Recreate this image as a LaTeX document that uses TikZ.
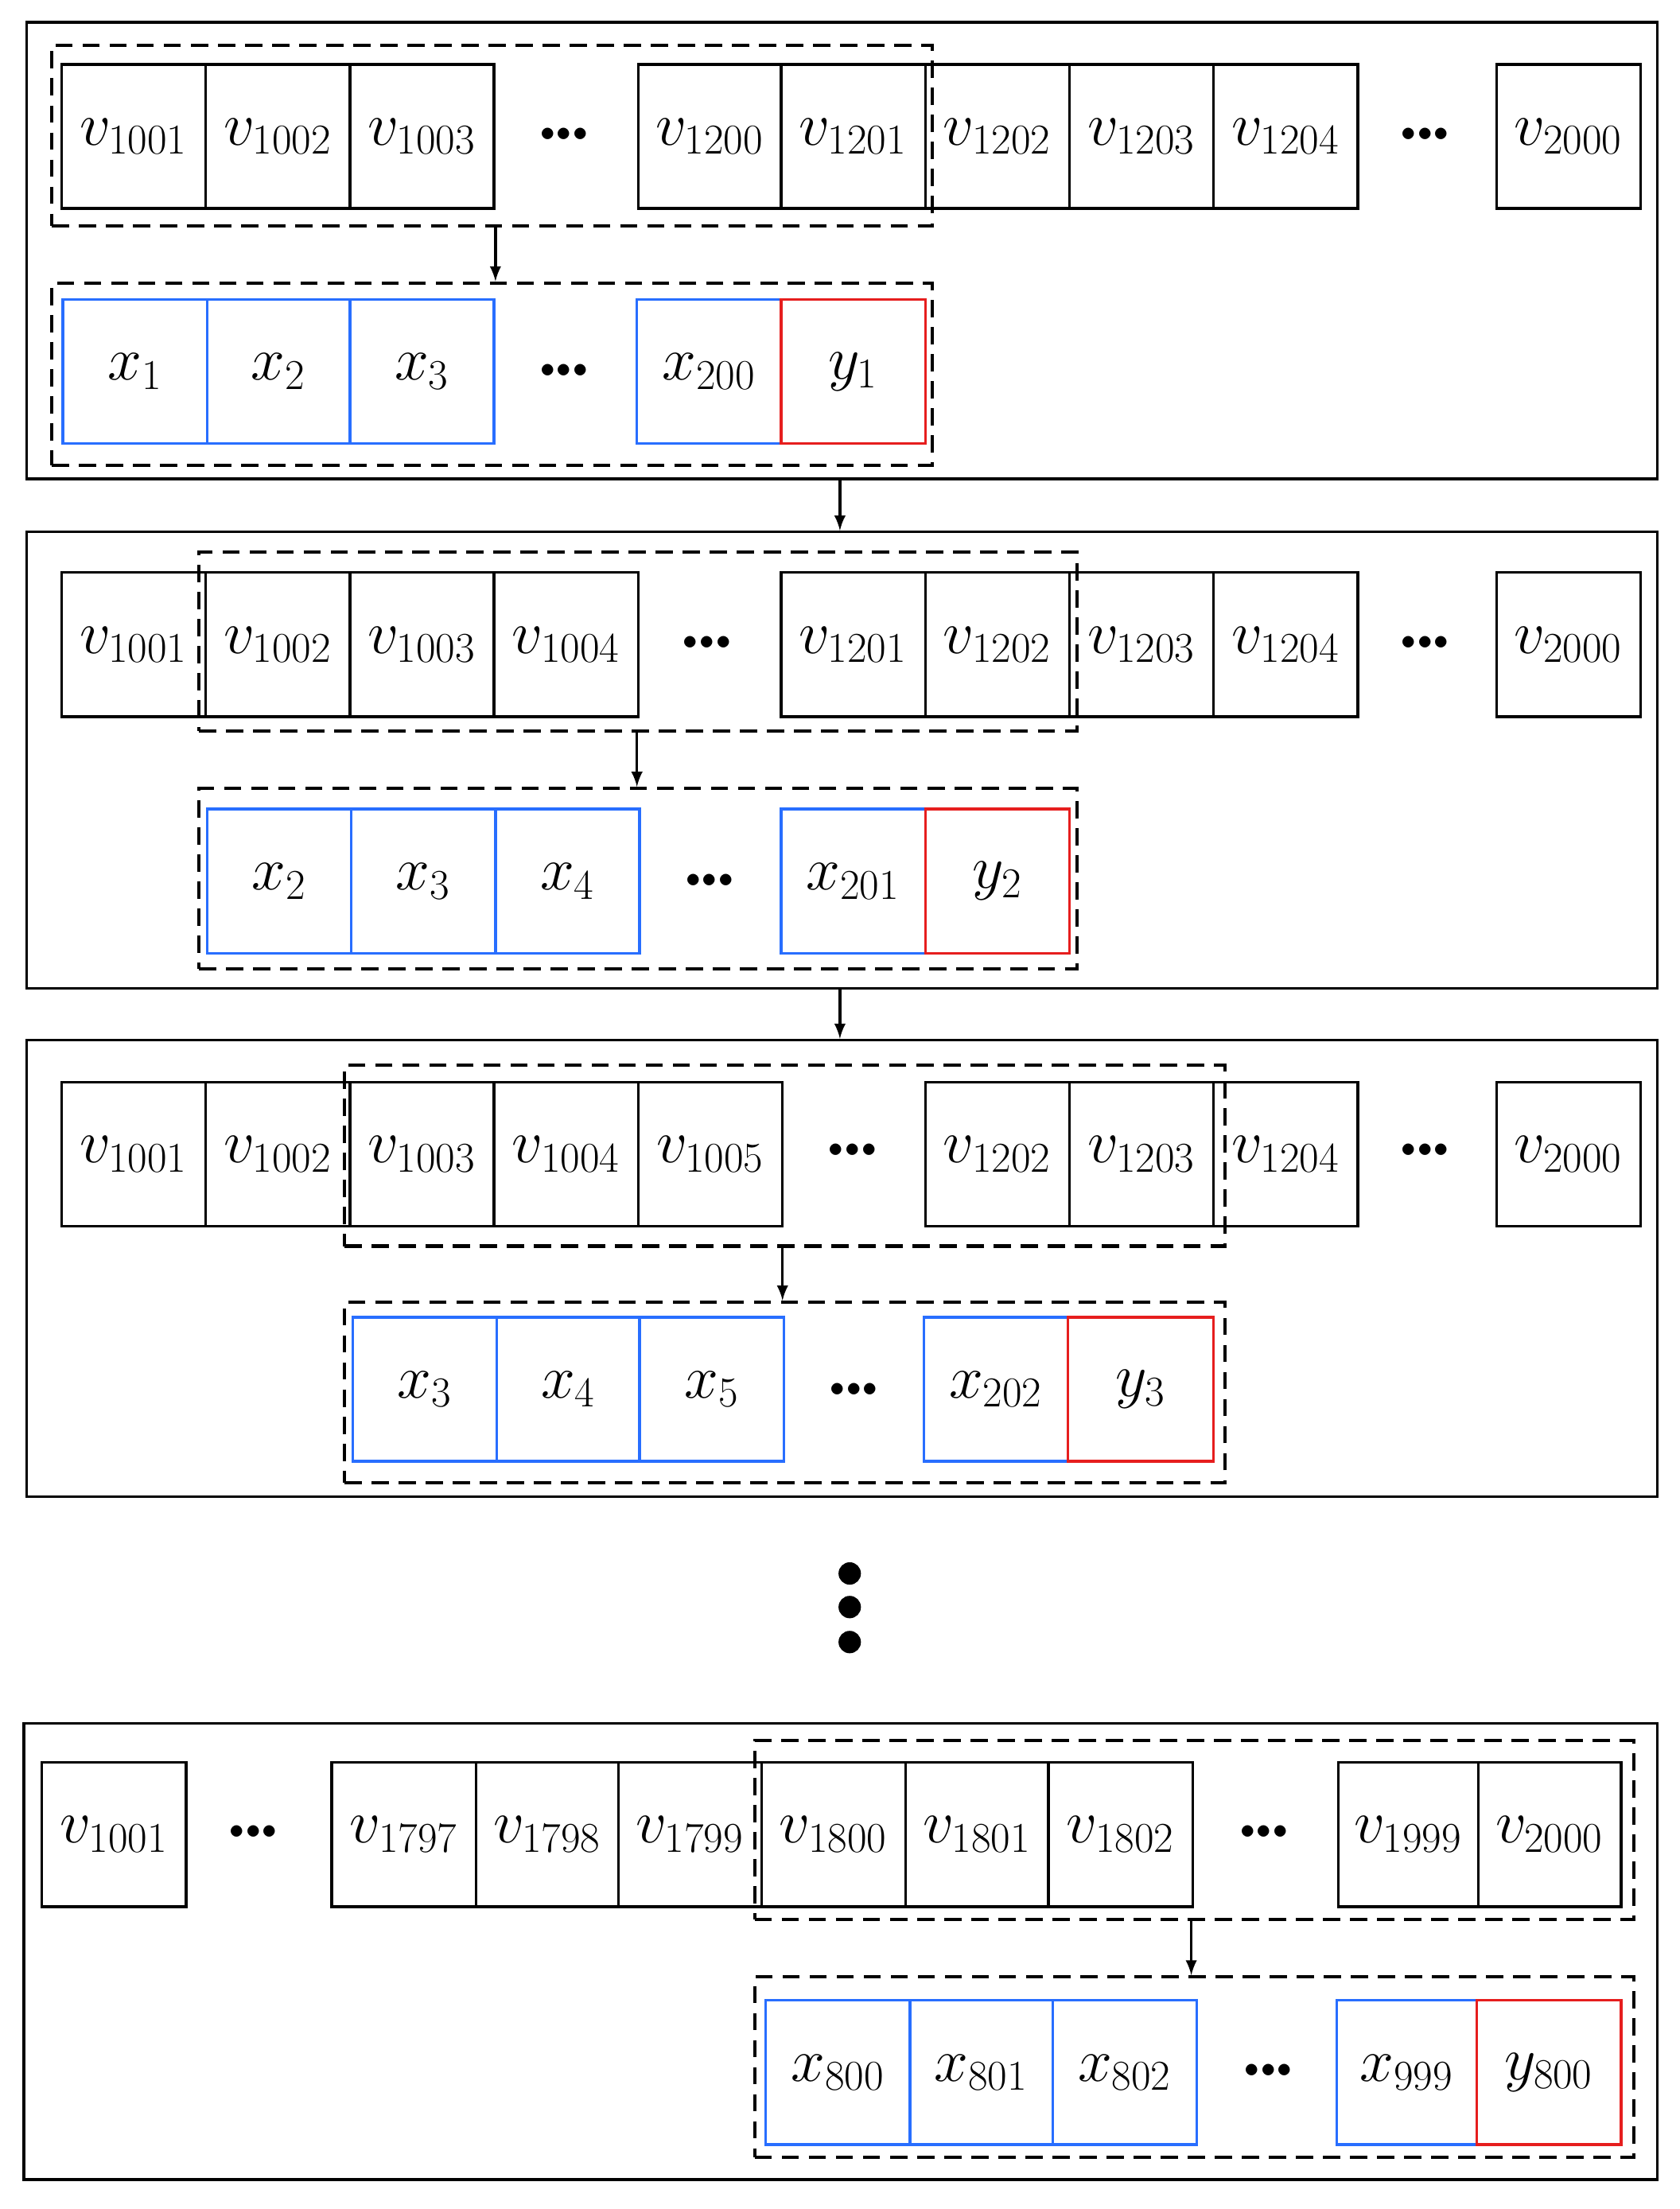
\documentclass[tikz,border=0pt]{standalone}
\usepackage{amsmath}
\begin{document}
\begin{tikzpicture}[x=0.02cm,y=-0.02cm,
  base/.style={draw,line width=1.1pt,inner sep=0pt,minimum height=2.06cm,anchor=north west,font=\fontsize{23}{27}\selectfont},
  vb/.style={base,draw=black},
  xb/.style={base,draw={rgb,255:red,40;green,110;blue,255}},
  yb/.style={base,draw={rgb,255:red,230;green,30;blue,30}},
  dbox/.style={draw,dashed,dash pattern=on 7pt off 4pt,line width=1.3pt,inner sep=0pt,anchor=north west},
  panel/.style={draw,line width=1.1pt,inner sep=0pt,anchor=north west},
  dots/.style={font=\fontsize{12}{14}\selectfont,inner sep=0pt},
  arr/.style={-{latex},line width=1.1pt}]
\useasboundingbox (0,0) rectangle (1200,1578);
\newcommand\cel[6]{\node[#5,minimum width={(#3-#2)*0.02cm}] (#1) at (#2,#4) {$#6$};}
\newcommand\dbx[5]{\node[dbox,minimum width={(#3-#2)*0.02cm},minimum height={(#5-#4)*0.02cm}] (#1) at (#2,#4) {};}
\newcommand\pnl[5]{\node[panel,minimum width={(#3-#2)*0.02cm},minimum height={(#5-#4)*0.02cm}] (#1) at (#2,#4) {};}
\newcommand\dt[3]{\node[dots] (#1) at (#2,#3) {$\bullet\!\bullet\!\bullet$};}
% Panel 1
\pnl{p1}{18}{1183}{15}{341}
\cel{a1}{43}{146}{45}{vb}{v_{1001}}
\cel{a2}{146}{249}{45}{vb}{v_{1002}}
\cel{a3}{249}{352}{45}{vb}{v_{1003}}
\dt{ad1}{403}{96}
\cel{a4}{455}{557}{45}{vb}{v_{1200}}
\cel{a5}{557}{660}{45}{vb}{v_{1201}}
\cel{a6}{660}{763}{45}{vb}{v_{1202}}
\cel{a7}{763}{866}{45}{vb}{v_{1203}}
\cel{a8}{866}{969}{45}{vb}{v_{1204}}
\dt{ad2}{1018}{96}
\cel{a9}{1068}{1171}{45}{vb}{v_{2000}}
\dbx{ad}{36}{665}{31}{160}
\cel{b1}{44}{147}{213}{xb}{x_{1}}
\cel{b2}{147}{249}{213}{xb}{x_{2}}
\cel{b3}{249}{352}{213}{xb}{x_{3}}
\dt{bd1}{403}{265}
\cel{b4}{454}{557}{213}{xb}{x_{200}}
\cel{b5}{557}{660}{213}{yb}{y_{1}}
\dbx{bd}{36}{665}{201}{331}
\draw[arr] (ad.south -| b3.east) -- (bd.north -| b3.east);
% Panel 2
\pnl{p2}{18}{1183}{379}{705}
\draw[arr] (p1.south -| 600,0) -- (p2.north -| 600,0);
\cel{c1}{43}{146}{408}{vb}{v_{1001}}
\cel{c2}{146}{249}{408}{vb}{v_{1002}}
\cel{c3}{249}{352}{408}{vb}{v_{1003}}
\cel{c4}{352}{455}{408}{vb}{v_{1004}}
\dt{cd1}{505}{459}
\cel{c5}{557}{660}{408}{vb}{v_{1201}}
\cel{c6}{660}{763}{408}{vb}{v_{1202}}
\cel{c7}{763}{866}{408}{vb}{v_{1203}}
\cel{c8}{866}{969}{408}{vb}{v_{1204}}
\dt{cd2}{1018}{459}
\cel{c9}{1068}{1171}{408}{vb}{v_{2000}}
\dbx{cd}{141}{768}{393}{521}
\cel{e1}{147}{250}{577}{xb}{x_{2}}
\cel{e2}{250}{353}{577}{xb}{x_{3}}
\cel{e3}{353}{456}{577}{xb}{x_{4}}
\dt{ed1}{507}{629}
\cel{e4}{557}{660}{577}{xb}{x_{201}}
\cel{e5}{660}{763}{577}{yb}{y_{2}}
\dbx{ed}{141}{768}{562}{691}
\draw[arr] (cd.south -| 455,0) -- (ed.north -| 455,0);
% Panel 3
\pnl{p3}{18}{1183}{742}{1068}
\draw[arr] (p2.south -| 600,0) -- (p3.north -| 600,0);
\cel{f1}{43}{146}{772}{vb}{v_{1001}}
\cel{f2}{146}{249}{772}{vb}{v_{1002}}
\cel{f3}{249}{352}{772}{vb}{v_{1003}}
\cel{f4}{352}{455}{772}{vb}{v_{1004}}
\cel{f5}{455}{558}{772}{vb}{v_{1005}}
\dt{fd1}{609}{822}
\cel{f6}{660}{763}{772}{vb}{v_{1202}}
\cel{f7}{763}{866}{772}{vb}{v_{1203}}
\cel{f8}{866}{969}{772}{vb}{v_{1204}}
\dt{fd2}{1018}{822}
\cel{f9}{1068}{1171}{772}{vb}{v_{2000}}
\dbx{fd}{245}{874}{760}{889}
\cel{g1}{251}{354}{940}{xb}{x_{3}}
\cel{g2}{354}{456}{940}{xb}{x_{4}}
\cel{g3}{456}{559}{940}{xb}{x_{5}}
\dt{gd1}{610}{993}
\cel{g4}{659}{762}{940}{xb}{x_{202}}
\cel{g5}{762}{866}{940}{yb}{y_{3}}
\dbx{gd}{245}{874}{929}{1058}
\draw[arr] (fd.south -| 559,0) -- (gd.north -| 559,0);
% vertical dots
\fill (607,1124) circle (8) (607,1148) circle (8) (607,1173) circle (8);
% Panel 4
\pnl{p4}{16}{1183}{1230}{1556}
\cel{h1}{29}{132}{1258}{vb}{v_{1001}}
\dt{hd1}{181}{1309}
\cel{h2}{236}{339}{1258}{vb}{v_{1797}}
\cel{h3}{339}{441}{1258}{vb}{v_{1798}}
\cel{h4}{441}{543}{1258}{vb}{v_{1799}}
\cel{h5}{543}{646}{1258}{vb}{v_{1800}}
\cel{h6}{646}{748}{1258}{vb}{v_{1801}}
\cel{h7}{748}{851}{1258}{vb}{v_{1802}}
\dt{hd2}{903}{1309}
\cel{h8}{955}{1055}{1258}{vb}{v_{1999}}
\cel{h9}{1055}{1157}{1258}{vb}{v_{2000}}
\dbx{hd}{538}{1166}{1242}{1370}
\cel{k1}{546}{649}{1428}{xb}{x_{800}}
\cel{k2}{649}{751}{1428}{xb}{x_{801}}
\cel{k3}{751}{854}{1428}{xb}{x_{802}}
\dt{kd1}{906}{1479}
\cel{k4}{954}{1054}{1428}{xb}{x_{999}}
\cel{k5}{1054}{1157}{1428}{yb}{y_{800}}
\dbx{kd}{538}{1166}{1411}{1540}
\draw[arr] (hd.south -| 851,0) -- (kd.north -| 851,0);
\end{tikzpicture}
\end{document}
